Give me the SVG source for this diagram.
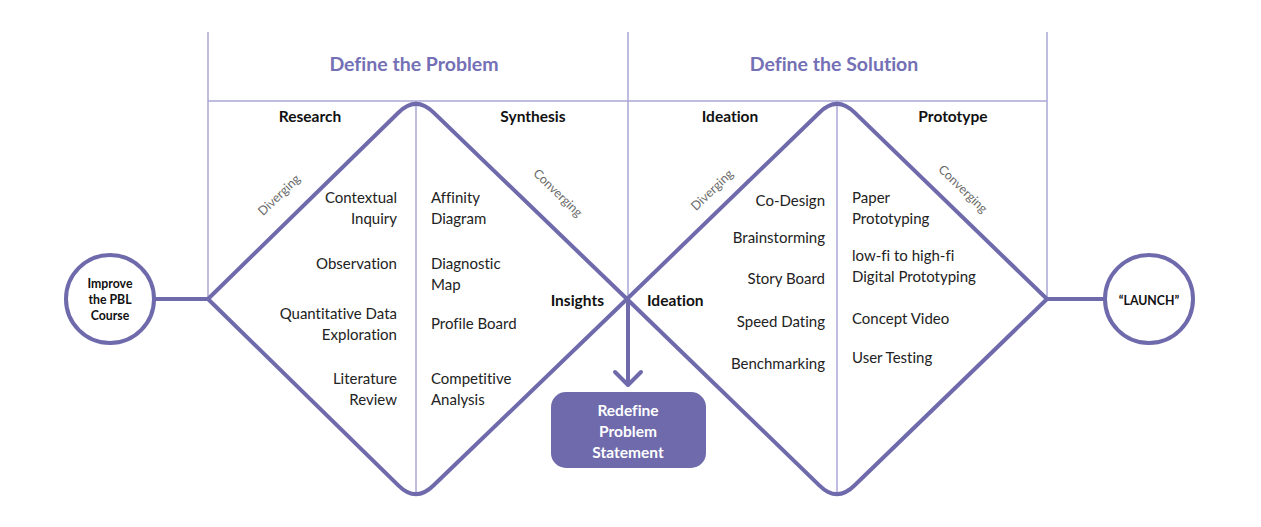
<svg xmlns="http://www.w3.org/2000/svg" width="1261" height="527" viewBox="0 0 1261 527">
<style>
text{font-family:Lato,"Liberation Sans",sans-serif;font-variant-ligatures:none}
.thin{stroke:#aaa7d4;stroke-width:1.5;fill:none}
.thick{stroke:#6e6aab;stroke-width:4;fill:none;stroke-linejoin:round;stroke-linecap:round}
.t{font-size:15px;fill:#222}
.b{font-size:15.5px;font-weight:bold;fill:#111}
.h{font-size:19.5px;font-weight:bold;fill:#7470b5}
.d{font-size:12.5px;fill:#6a6a6a}
.c{font-size:12.3px;font-weight:bold;fill:#111}
.w{font-size:15.5px;font-weight:bold;fill:#fff}
.e{text-anchor:end}.m{text-anchor:middle}
</style>
<rect width="1261" height="527" fill="#fff"/>
<g id="frame">
<line class="thin" x1="208" y1="32" x2="208" y2="299"/>
<line class="thin" x1="628" y1="32" x2="628" y2="300"/>
<line class="thin" x1="1047" y1="32" x2="1047" y2="299"/>
<line class="thin" x1="208" y1="101" x2="1047" y2="101"/>
<line class="thin" x1="416" y1="101" x2="416" y2="496"/>
<line class="thin" x1="837" y1="101" x2="837" y2="496"/>
<text class="h m" x="414" y="71">Define the Problem</text>
<text class="h m" x="834" y="71">Define the Solution</text>
</g>
<g id="connectors">
<line class="thick" x1="154" y1="299" x2="208" y2="299"/>
<line class="thick" x1="1047" y1="299" x2="1105" y2="299"/>
<line class="thick" x1="628" y1="300" x2="628" y2="384"/>
<polyline class="thick" points="615,372 628,385 641,372"/>
</g>
<g id="start">
<circle cx="110" cy="299" r="44" fill="#fff" stroke="#6e6aab" stroke-width="4"/>
<text class="c m" x="110" y="288">Improve</text>
<text class="c m" x="110" y="304">the PBL</text>
<text class="c m" x="110" y="320">Course</text>
</g>
<g id="launch">
<circle cx="1149" cy="299" r="44" fill="#fff" stroke="#6e6aab" stroke-width="4"/>
<text class="c m" x="1149" y="305">“LAUNCH”</text>
</g>
<g id="diamond-problem">
<path class="thick" d="M208,299 L398.3,112.7 Q416,95 433.7,112.7 L627,299 L433.7,485.3 Q416,503 398.3,485.3 Z"/>
<text class="b m" x="310" y="122">Research</text>
<text class="b m" x="533" y="122">Synthesis</text>
<text class="d m" transform="translate(282,198) rotate(-44)">Diverging</text>
<text class="d m" transform="translate(555,196) rotate(44)">Converging</text>
<text class="t e" x="397" y="203">Contextual</text>
<text class="t e" x="397" y="224">Inquiry</text>
<text class="t e" x="397" y="269">Observation</text>
<text class="t e" x="397" y="319">Quantitative Data</text>
<text class="t e" x="397" y="340">Exploration</text>
<text class="t e" x="397" y="384">Literature</text>
<text class="t e" x="397" y="405">Review</text>
<text class="t" x="431" y="203">Affinity</text>
<text class="t" x="431" y="224">Diagram</text>
<text class="t" x="431" y="269">Diagnostic</text>
<text class="t" x="431" y="290">Map</text>
<text class="t" x="431" y="329">Profile Board</text>
<text class="t" x="431" y="384">Competitive</text>
<text class="t" x="431" y="405">Analysis</text>
<text class="b e" x="604" y="306">Insights</text>
</g>
<g id="diamond-solution">
<path class="thick" d="M627,299 L819.3,112.7 Q837,95 854.7,112.7 L1047,299 L854.7,485.3 Q837,503 819.3,485.3 Z"/>
<text class="b m" x="730" y="122">Ideation</text>
<text class="b m" x="953" y="122">Prototype</text>
<text class="d m" transform="translate(715,193) rotate(-44)">Diverging</text>
<text class="d m" transform="translate(960,192) rotate(44)">Converging</text>
<text class="t e" x="825" y="206">Co-Design</text>
<text class="t e" x="825" y="243">Brainstorming</text>
<text class="t e" x="825" y="284">Story Board</text>
<text class="t e" x="825" y="327">Speed Dating</text>
<text class="t e" x="825" y="369">Benchmarking</text>
<text class="t" x="852" y="203">Paper</text>
<text class="t" x="852" y="224">Prototyping</text>
<text class="t" x="852" y="261">low-fi to high-fi</text>
<text class="t" x="852" y="282">Digital Prototyping</text>
<text class="t" x="852" y="324">Concept Video</text>
<text class="t" x="852" y="363">User Testing</text>
<text class="b" x="647" y="306">Ideation</text>
</g>
<g id="redefine">
<rect x="551" y="392" width="155" height="76" rx="15" fill="#6e6aab"/>
<text class="w m" x="628" y="416">Redefine</text>
<text class="w m" x="628" y="437">Problem</text>
<text class="w m" x="628" y="458">Statement</text>
</g>
</svg>
